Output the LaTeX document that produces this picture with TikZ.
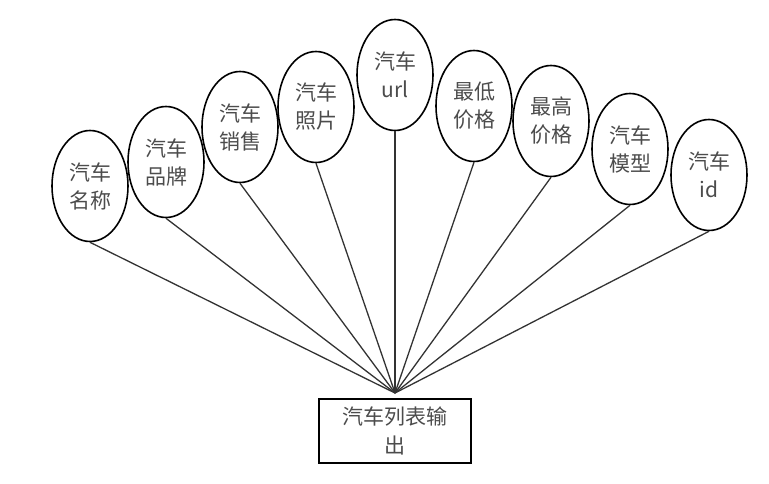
\documentclass[tikz,border=0pt]{standalone}
\usepackage{fontspec}
\setmainfont{Noto Sans CJK SC}
\usetikzlibrary{shapes.geometric}

\begin{document}
\begin{tikzpicture}[
x=1pt, y=-1pt,
field/.style={ellipse, draw, line width=1.6pt, minimum width=76pt, minimum height=111pt, inner sep=0pt, align=center, text=black!70, font=\fontsize{21}{28}\selectfont},
output/.style={rectangle, draw, line width=1.6pt, minimum width=152pt, minimum height=64pt, inner sep=0pt, align=center, text=black!70, font=\fontsize{21}{29}\selectfont},
link/.style={line width=1.3pt, black!80}
]
\useasboundingbox (0,0) rectangle (769,484);

\node[field] (name) at (90,186) {汽车\\名称};
\node[field] (brand) at (166,162) {汽车\\品牌};
\node[field] (sales) at (240,127) {汽车\\销售};
\node[field] (photo) at (316,107) {汽车\\照片};
\node[field] (url) at (395,75) {汽车\\url};
\node[field] (minprice) at (474,106) {最低\\价格};
\node[field] (maxprice) at (551,121) {最高\\价格};
\node[field] (model) at (630,149) {汽车\\模型};
\node[field] (carid) at (709,175) {汽车\\id};

\node[output] (list) at (395,431) {汽车列表输\\出};
\coordinate (hub) at (395,393);

\draw[link] (name.south) -- (hub);
\draw[link] (brand.south) -- (hub);
\draw[link] (sales.south) -- (hub);
\draw[link] (photo.south) -- (hub);
\draw[link] (url.south) -- (hub);
\draw[link] (minprice.south) -- (hub);
\draw[link] (maxprice.south) -- (hub);
\draw[link] (model.south) -- (hub);
\draw[link] (carid.south) -- (hub);
\end{tikzpicture}
\end{document}
